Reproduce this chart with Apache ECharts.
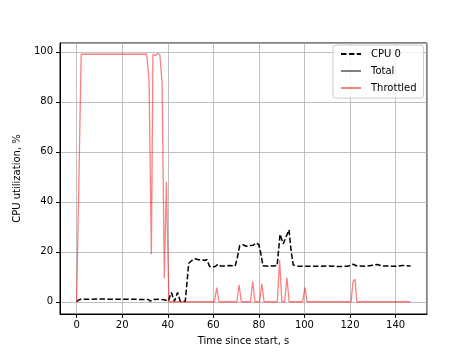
<!DOCTYPE html>
<html>
<head>
<meta charset="utf-8">
<script src="https://cdn.jsdelivr.net/npm/echarts@6/dist/echarts.min.js"></script>
<style>
  html, body { margin: 0; padding: 0; background: #fff; }
  #main { width: 474px; height: 353px; }
</style>
</head>
<body>
<div id="main"></div>
<script>
// CPU 0 (black dashed)
var cpuTime = [0, 1, 2, 5, 10, 15, 20, 25, 29, 31.5, 32.4, 33.3, 36, 38.5, 39.3, 40.2, 41.6, 42.9, 44.3, 45.5, 47.7,
  49.2, 50.6, 52, 53.5, 55, 56.3, 57.2, 58.3, 59.5, 61, 62, 63, 65, 67, 69.6, 70.5, 71.6, 73, 74.5, 76, 77.5, 78.8,
  80, 80.8, 81.8, 84, 86, 88, 89.3, 90.7, 93.2, 94.2, 95.1, 97, 100, 105, 110, 115, 119, 121.4, 123, 127, 132, 134,
  140, 143, 146.6];
var cpuValue = [0, 0.8, 1.0, 1.0, 1.1, 1.0, 1.0, 1.0, 0.9, 0.9, 0.2, 0.9, 1.0, 0.8, 0.3, 0.2, 3.7, 0.2, 3.7, 0.2, 0.2,
  15.4, 16.5, 17.2, 16.8, 16.9, 16.5, 16.9, 14.2, 13.8, 14.2, 15.0, 14.3, 14.3, 14.5, 14.3, 17.5, 22.5, 22.8, 22.2, 22.5, 22.6, 23.5,
  22.8, 19.5, 14.4, 14.2, 14.3, 14.4, 27, 23.2, 28.8, 20, 14.7, 14.3, 14.2, 14.2, 14.3, 14.1, 14.2, 15.0, 14.3, 14.2, 14.9, 14.3,
  14.2, 14.5, 14.3];

// Total (not visible in the reference)
var totalTime = [];
var totalValue = [];

// Throttled (light red)
var throttledTime = [0, 2, 30.8, 31.8, 32.8, 33.5, 34.5, 35.5, 36.5, 37.5, 38.5, 39.4, 40.5,
  60.5, 61.5, 62.5, 70.3, 71.3, 72.3, 76.3, 77.3, 78.3, 80.3, 81.3, 82.3,
  88.1, 89.1, 90.1, 91.3, 92.3, 93.3, 99.2, 100.2, 101.2, 120.5, 121.3, 122.2, 123, 146.6];
var throttledValue = [0, 99, 99, 88, 19, 99, 98.5, 99.3, 99, 88, 9.5, 48, 0,
  0, 5.7, 0, 0, 6.8, 0, 0, 8.1, 0, 0, 7.2, 0,
  0, 16.7, 0, 0, 9.7, 0, 0, 5.7, 0, 0, 8, 9, 0, 0];

var xTicks = [0, 20, 40, 60, 80, 100, 120, 140];
var yTicks = [0, 20, 40, 60, 80, 100];

function pairs(t, v) {
  return t.map(function (x, i) { return [x, v[i]]; });
}

var chart = echarts.init(document.getElementById('main'));
var font = 'DejaVu Sans';

var option = {
  animation: false,
  backgroundColor: '#fff',
  textStyle: { fontFamily: font },
  grid: {
    left: 60, right: 47, top: 43, bottom: 39,
    show: true, borderColor: '#000', borderWidth: 1
  },
  legend: {
    orient: 'vertical',
    left: 333, top: 45,
    padding: [4, 7, 5, 7],
    itemWidth: 20, itemHeight: 10, itemGap: 7,
    backgroundColor: 'rgba(255,255,255,0.8)',
    borderColor: '#cccccc', borderWidth: 1, borderRadius: 3,
    itemStyle: { opacity: 0 },
    textStyle: { fontFamily: font, fontSize: 10, color: '#000', padding: [0, 0, 0, 5] },
    data: ['CPU 0', 'Total', 'Throttled']
  },
  xAxis: {
    type: 'value',
    min: -7.3, max: 153.8, splitNumber: 8,
    name: 'Time since start, s', nameLocation: 'middle', nameGap: 22,
    nameTextStyle: { fontFamily: font, fontSize: 10, color: '#000' },
    axisLine: { show: true, onZero: false, lineStyle: { color: '#000', width: 1 } },
    axisTick: { show: true, inside: false, length: 4, lineStyle: { color: '#000' } },
    axisLabel: {
      fontFamily: font, fontSize: 10, color: '#000', margin: 6,
      showMinLabel: false, showMaxLabel: false,
      formatter: function (v) { return xTicks.indexOf(Math.round(v * 1000) / 1000) >= 0 ? String(v) : ''; }
    },
    splitLine: { show: true, lineStyle: { color: '#b0b0b0', width: 0.8 } }
  },
  yAxis: {
    type: 'value',
    min: -4.9, max: 103.5, splitNumber: 5,
    name: 'CPU utilization, %', nameLocation: 'middle', nameGap: 38,
    nameTextStyle: { fontFamily: font, fontSize: 10, color: '#000' },
    axisLine: { show: true, onZero: false, lineStyle: { color: '#000', width: 1 } },
    axisTick: { show: true, inside: false, length: 4, lineStyle: { color: '#000' } },
    axisLabel: {
      fontFamily: font, fontSize: 10, color: '#000', margin: 7,
      showMinLabel: false, showMaxLabel: false,
      formatter: function (v) { return yTicks.indexOf(Math.round(v * 1000) / 1000) >= 0 ? String(v) : ''; }
    },
    splitLine: { show: true, lineStyle: { color: '#b0b0b0', width: 0.8 } }
  },
  series: [
    {
      name: 'CPU 0', type: 'line', symbol: 'none', z: 3,
      itemStyle: { color: '#000' },
      lineStyle: { color: '#000', width: 1.5, type: [5.5, 2.4] },
      data: pairs(cpuTime, cpuValue)
    },
    {
      name: 'Total', type: 'line', symbol: 'none', z: 2,
      itemStyle: { color: '#808080' },
      lineStyle: { color: '#808080', width: 1.5 },
      data: pairs(totalTime, totalValue)
    },
    {
      name: 'Throttled', type: 'line', symbol: 'none', z: 4,
      itemStyle: { color: 'rgba(255,0,0,0.5)' },
      lineStyle: { color: 'rgba(255,0,0,0.5)', width: 1.3 },
      data: pairs(throttledTime, throttledValue)
    }
  ]
};

chart.setOption(option);
</script>
</body>
</html>
